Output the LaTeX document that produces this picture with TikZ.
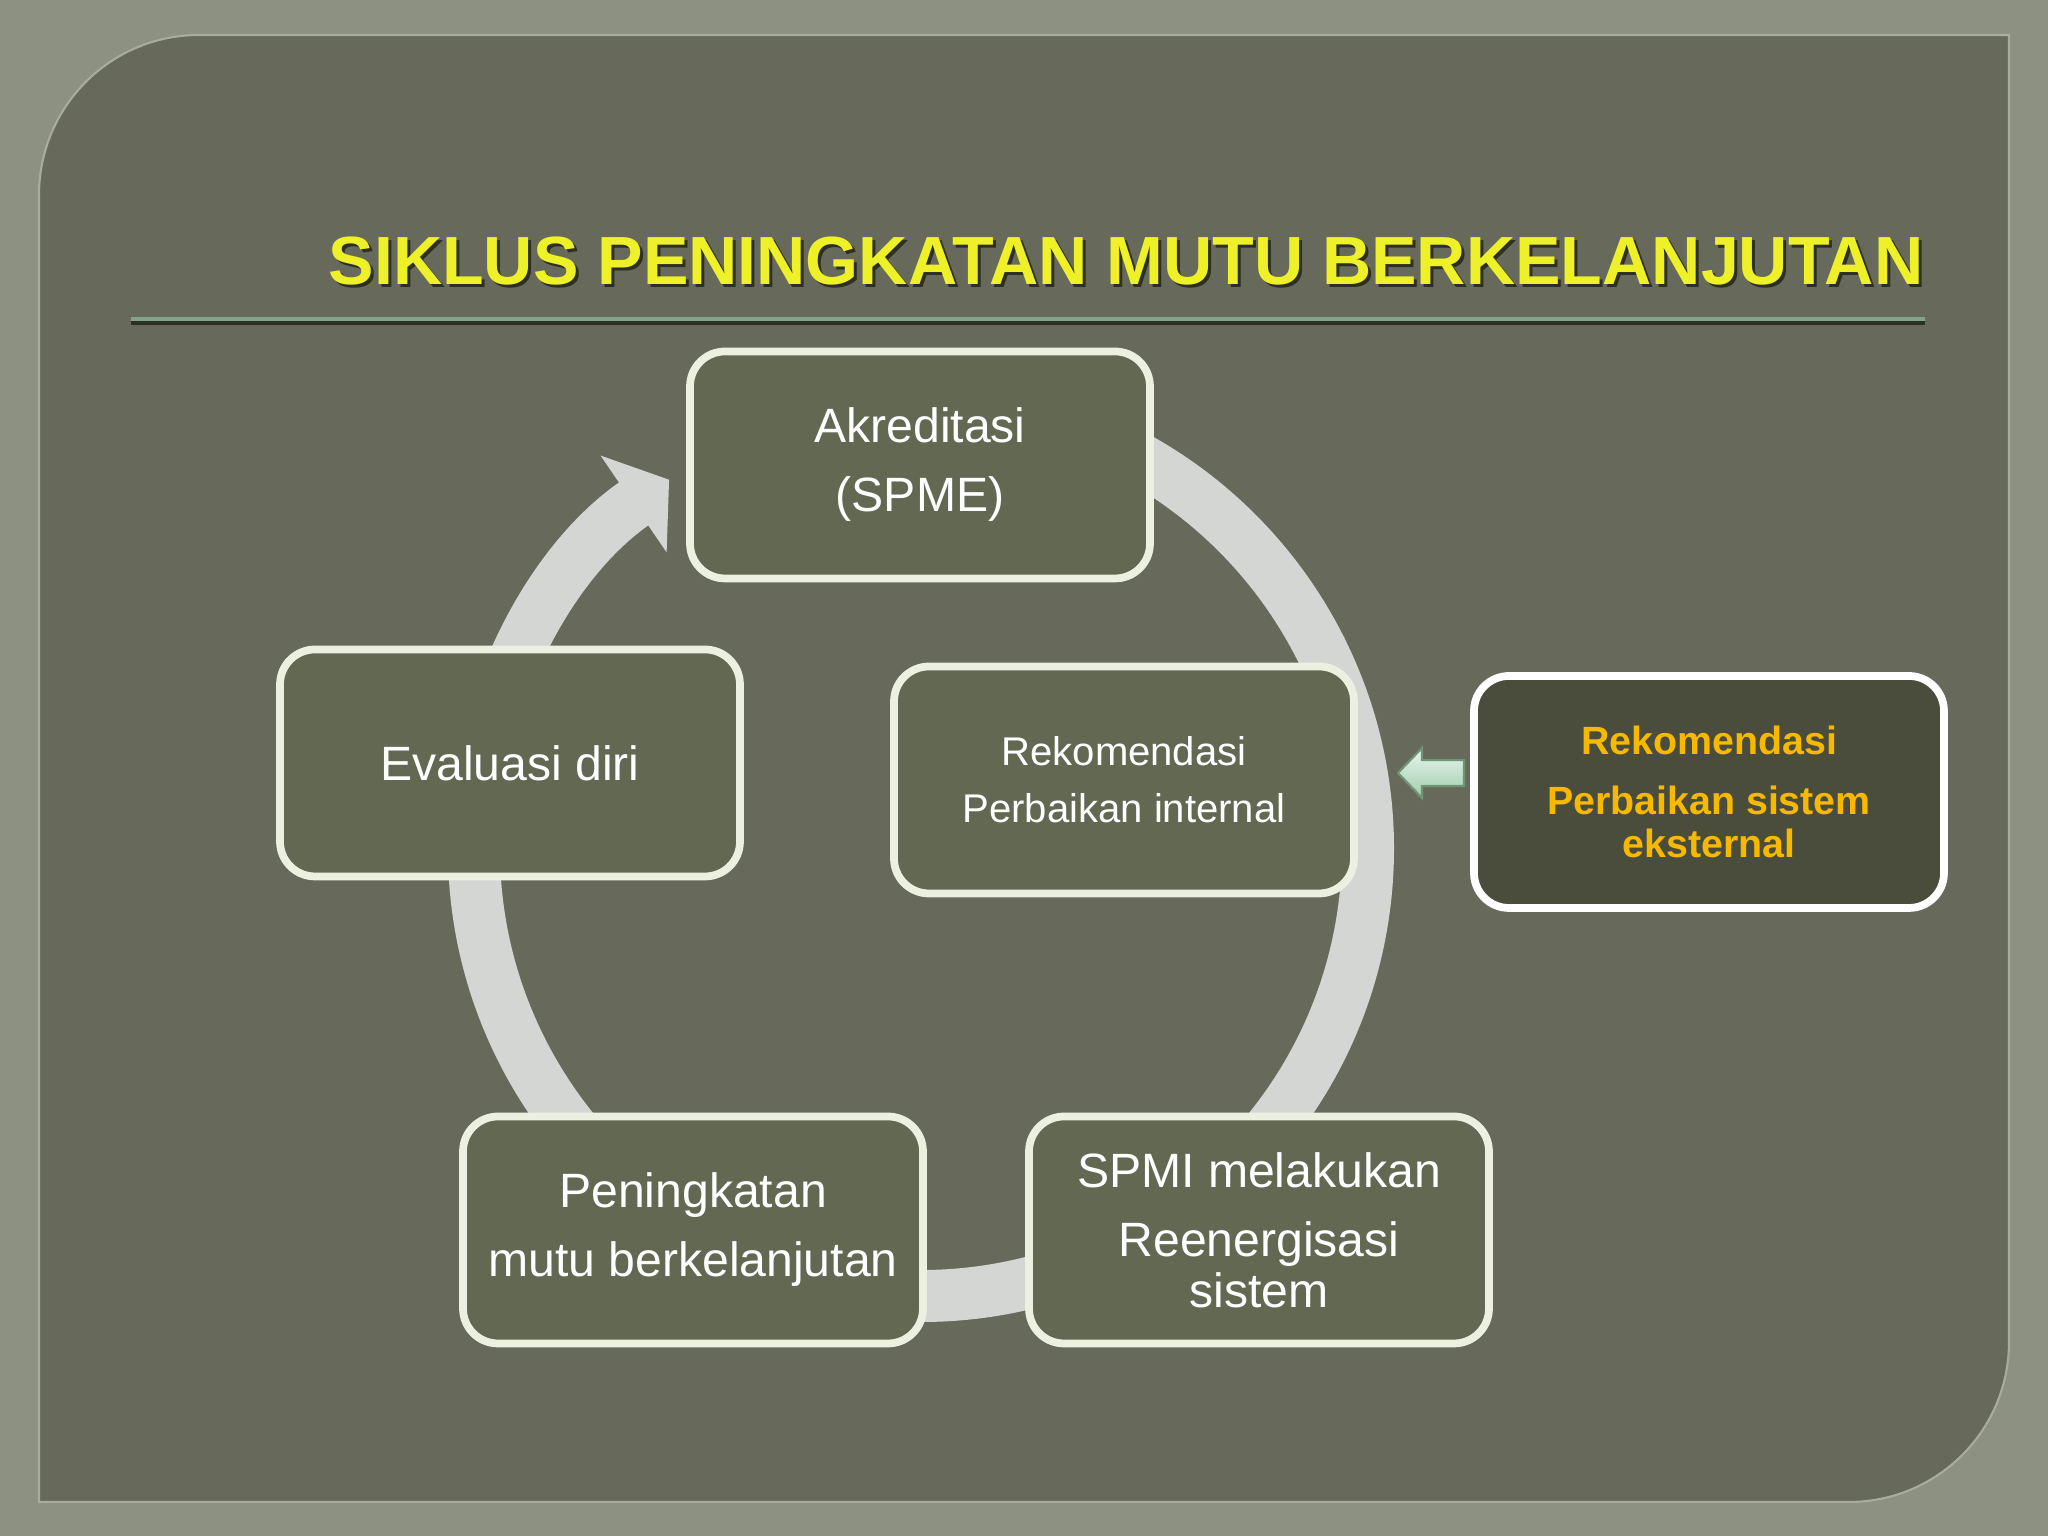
\documentclass[tikz,border=0pt]{standalone}
\usepackage{fontspec}
\setmainfont{Liberation Sans}
\usepackage{tikz}
\usetikzlibrary{arrows.meta,positioning}
\definecolor{outerbg}{RGB}{141,145,129}
\definecolor{panelbg}{RGB}{103,106,90}
\definecolor{paneledge}{RGB}{168,172,156}
\definecolor{stagefill}{RGB}{99,104,83}
\definecolor{stageedge}{RGB}{236,240,224}
\definecolor{ringgrey}{RGB}{211,214,211}
\definecolor{titleyellow}{RGB}{238,240,40}
\definecolor{titleshadow}{RGB}{45,47,36}
\definecolor{rulegreen}{RGB}{130,165,135}
\definecolor{extfill}{RGB}{74,76,60}
\definecolor{extorange}{RGB}{247,184,0}
\definecolor{fbmint}{RGB}{232,246,236}
\definecolor{fbgreen}{RGB}{160,204,172}
\definecolor{fbedge}{RGB}{110,150,118}

\begin{document}
\begin{tikzpicture}[
    stage/.style={rectangle, rounded corners=0.35cm, draw=stageedge, line width=2.2pt, fill=stagefill,
        minimum width=4.6cm, minimum height=2.27cm, align=center, text=white!96!stageedge,
        font=\fontsize{13.7}{19.6}\selectfont},
    extbox/.style={stage, draw=white, fill=extfill, minimum width=4.7cm, minimum height=2.32cm,
        text=extorange, font=\bfseries\fontsize{11.2}{12.3}\selectfont},
    ring/.style={draw=ringgrey, line width=0.52cm},
    titletext/.style={font=\bfseries\fontsize{19.4}{22}\selectfont},
]

% Background and panel
\useasboundingbox (0,0) rectangle (20.48,15.36);
\fill[outerbg] (0,0) rectangle (20.48,15.36);
\fill[panelbg, draw=paneledge, line width=0.6pt] (0.39,0.34) -- (18.49,0.34)
    arc[start angle=-90, end angle=0, radius=1.6] -- (20.09,15.01) -- (1.99,15.01)
    arc[start angle=90, end angle=180, radius=1.6] -- cycle;

% Title
\node[titletext, text=titleshadow] (title_shadow) at (11.29,12.72) {SIKLUS PENINGKATAN MUTU BERKELANJUTAN};
\node[titletext, text=titleyellow] (title) at (11.26,12.75) {SIKLUS PENINGKATAN MUTU BERKELANJUTAN};
\draw[titleshadow, line width=1pt] (1.31,12.13) -- (19.25,12.13);
\draw[rulegreen, line width=1pt] (1.31,12.17) -- (19.25,12.17);

% --- CYCLE RING ---
\coordinate (cyc) at (9.21,6.87);
\draw[ring, -{Triangle[length=4.3mm, width=11.5mm]}] ([shift={(85:4.47)}]cyc)
    arc[start angle=85, end angle=-235.7, radius=4.47];

% Stages of the cycle
\node[stage] (akred) at (9.20,10.71) {Akreditasi\\(SPME)};
\node[stage] (evaldiri) at (5.10,7.73) {Evaluasi diri};
\node[stage, font=\fontsize{11.4}{16.2}\selectfont] (rekint) at (11.24,7.56) {Rekomendasi\\Perbaikan internal};
\node[stage] (spmi) at (12.59,3.06) {SPMI melakukan\\Reenergisasi\\[-5.1pt]sistem};
\node[stage] (peningkatan) at (6.93,3.06) {Peningkatan\\mutu berkelanjutan};

% External recommendation
\node[extbox] (rekext) at (17.09,7.44) {Rekomendasi\\[4.8pt]Perbaikan sistem\\eksternal};

% Feedback arrow
\coordinate (fbtip) at (13.98,7.63);
\draw[fbedge, line width=0.6pt, top color=fbmint, bottom color=fbgreen]
    (fbtip) -- ++(0.24,0.25) -- ++(0,-0.12) -- ++(0.42,0) -- ++(0,-0.26)
    -- ++(-0.42,0) -- ++(0,-0.12) -- cycle;

\end{tikzpicture}
\end{document}
